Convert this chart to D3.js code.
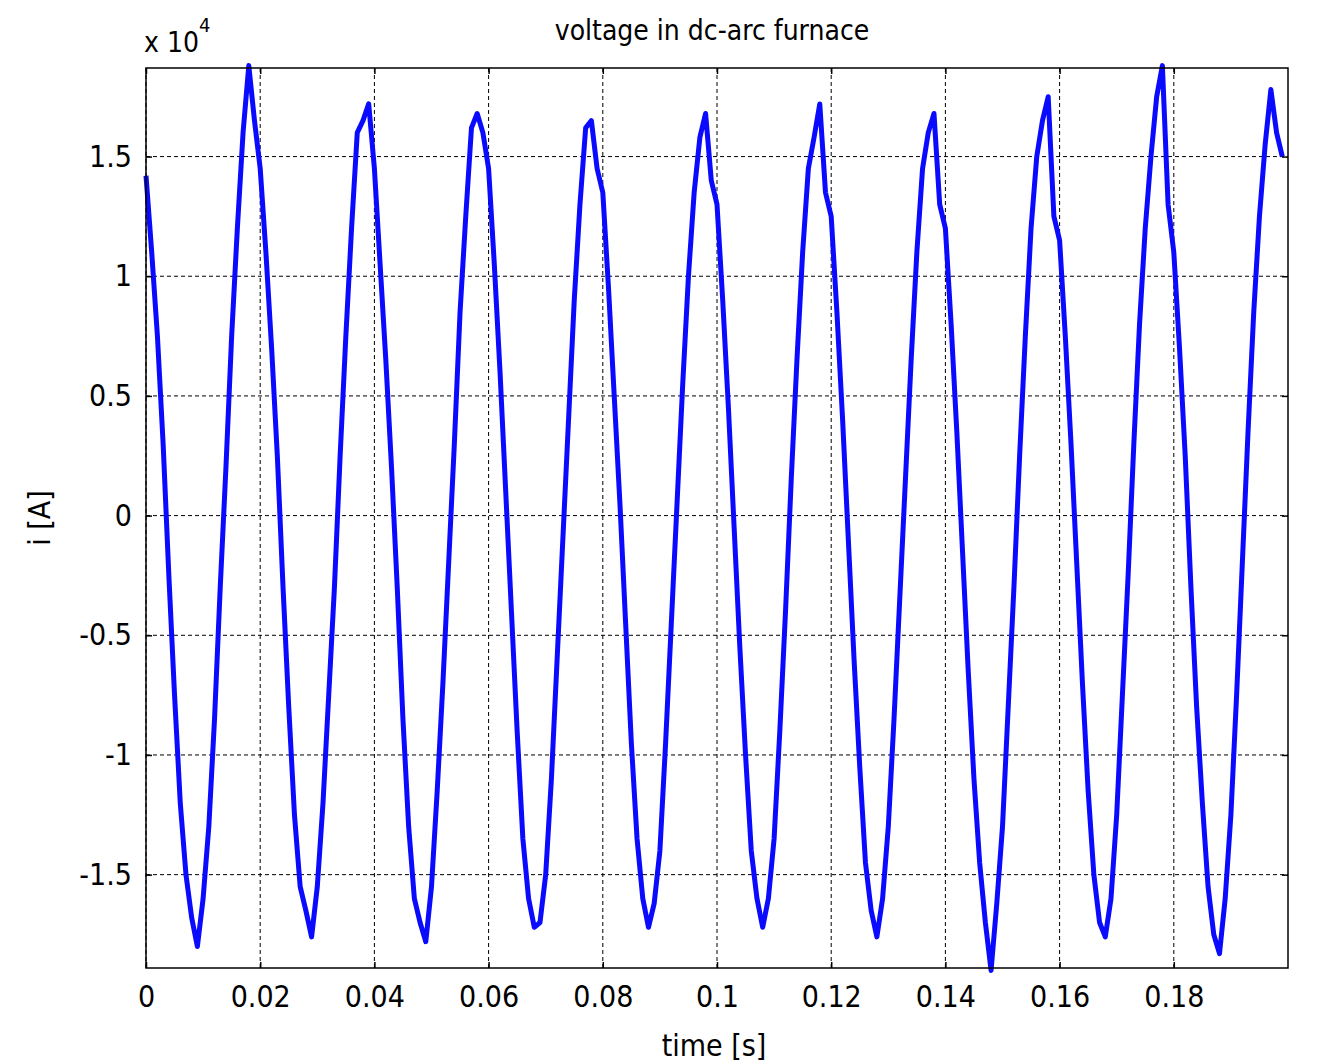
<!DOCTYPE html><html><head><meta charset="utf-8"><script src="https://cdn.jsdelivr.net/npm/d3@7"></script>
<style>body{margin:0;background:#fff}text{font-family:"DejaVu Sans Condensed","DejaVu Sans",sans-serif}</style></head><body>
<svg id="c" width="1328" height="1064"></svg>
<script>
const xTicks=[0,0.02,0.04,0.06,0.08,0.1,0.12,0.14,0.16,0.18];
const yTicks=[-1.5,-1,-0.5,0,0.5,1,1.5];
const sampleStep=0.001;
// current in units of 1e4 A, one sample per ms
const current=[
1.42,1.1,0.75,0.3,-0.25,-0.75,-1.2,-1.5,-1.68,-1.8,-1.6,-1.3,-0.85,-0.3,0.2,0.75,1.2,1.6,1.88,1.65,
1.45,1.1,0.7,0.25,-0.3,-0.8,-1.25,-1.55,-1.65,-1.76,-1.55,-1.2,-0.75,-0.3,0.25,0.75,1.2,1.6,1.65,1.72,
1.45,1.05,0.65,0.2,-0.3,-0.85,-1.3,-1.6,-1.7,-1.78,-1.55,-1.15,-0.7,-0.2,0.3,0.85,1.25,1.62,1.68,1.6,
1.45,1.05,0.6,0.1,-0.4,-0.9,-1.35,-1.6,-1.72,-1.7,-1.5,-1.1,-0.6,-0.1,0.4,0.9,1.3,1.62,1.65,1.45,
1.35,0.95,0.5,0.05,-0.45,-0.95,-1.35,-1.6,-1.72,-1.62,-1.4,-0.95,-0.45,0.05,0.55,1.0,1.35,1.58,1.68,1.4,
1.3,0.9,0.45,-0.05,-0.55,-1.0,-1.4,-1.6,-1.72,-1.6,-1.35,-0.9,-0.4,0.15,0.65,1.1,1.45,1.58,1.72,1.35,
1.25,0.85,0.4,-0.1,-0.6,-1.05,-1.45,-1.65,-1.76,-1.6,-1.3,-0.85,-0.35,0.15,0.65,1.1,1.45,1.6,1.68,1.3,
1.2,0.8,0.35,-0.15,-0.65,-1.1,-1.45,-1.7,-1.9,-1.62,-1.3,-0.8,-0.3,0.25,0.75,1.2,1.5,1.65,1.75,1.25,
1.15,0.75,0.3,-0.2,-0.7,-1.15,-1.5,-1.7,-1.76,-1.6,-1.25,-0.75,-0.25,0.3,0.8,1.2,1.5,1.75,1.88,1.3,
1.1,0.7,0.25,-0.3,-0.8,-1.2,-1.55,-1.75,-1.83,-1.6,-1.25,-0.75,-0.2,0.35,0.85,1.25,1.55,1.78,1.6,1.5];
const svg=d3.select("#c");
const L=146,R=1288,T=68,B=968;
const x=d3.scaleLinear().domain([0,0.2]).range([L,R]);
const y=d3.scaleLinear().domain([-1.89,1.87]).range([B,T]);
const g=svg.append("g");
xTicks.forEach(t=>{g.append("line").attr("x1",x(t)).attr("x2",x(t)).attr("y1",T).attr("y2",B).attr("stroke","#000").attr("stroke-width",1).attr("stroke-dasharray","4,3");});
yTicks.forEach(t=>{g.append("line").attr("x1",L).attr("x2",R).attr("y1",y(t)).attr("y2",y(t)).attr("stroke","#000").attr("stroke-width",1).attr("stroke-dasharray","4,3");});
const pts=current.map((v,i)=>[i*sampleStep,v]);
svg.append("path").datum(pts).attr("fill","none").attr("stroke","#0a0aff").attr("stroke-width",5).attr("stroke-linejoin","round")
 .attr("d",d3.line().x(d=>x(d[0])).y(d=>y(d[1])).curve(d3.curveLinear));
svg.append("rect").attr("x",L).attr("y",T).attr("width",R-L).attr("height",B-T).attr("fill","none").attr("stroke","#000").attr("stroke-width",1.5);
const fmt=d=>String(d);
const xa=svg.append("g").attr("transform",`translate(0,${B})`).call(d3.axisBottom(x).tickValues(xTicks).tickSize(-6).tickPadding(18).tickFormat(fmt));
const xt=svg.append("g").attr("transform",`translate(0,${T})`).call(d3.axisTop(x).tickValues(xTicks).tickSize(-6).tickFormat(""));
const ya=svg.append("g").attr("transform",`translate(${L},0)`).call(d3.axisLeft(y).tickValues(yTicks).tickSize(-6).tickPadding(14).tickFormat(fmt));
const yr=svg.append("g").attr("transform",`translate(${R},0)`).call(d3.axisRight(y).tickValues(yTicks).tickSize(-6).tickFormat(""));
[xa,xt,ya,yr].forEach(a=>{a.select(".domain").remove();a.selectAll("line").attr("stroke","#000").attr("stroke-width",1.5);a.selectAll("text").attr("font-size",30).attr("fill","#000").attr("font-family","DejaVu Sans Condensed, DejaVu Sans")});
svg.append("text").attr("x",712).attr("y",40).attr("text-anchor","middle").attr("font-size",28).text("voltage in dc-arc furnace");
svg.append("text").attr("x",714).attr("y",1056).attr("text-anchor","middle").attr("font-size",30).text("time [s]");
svg.append("text").attr("transform","translate(50,518) rotate(-90)").attr("text-anchor","middle").attr("font-size",30).text("i [A]");
const e=svg.append("text").attr("x",144).attr("y",52).attr("font-size",28);
e.append("tspan").text("x 10");e.append("tspan").attr("dy",-20).attr("font-size",20).text("4");
</script></body></html>
